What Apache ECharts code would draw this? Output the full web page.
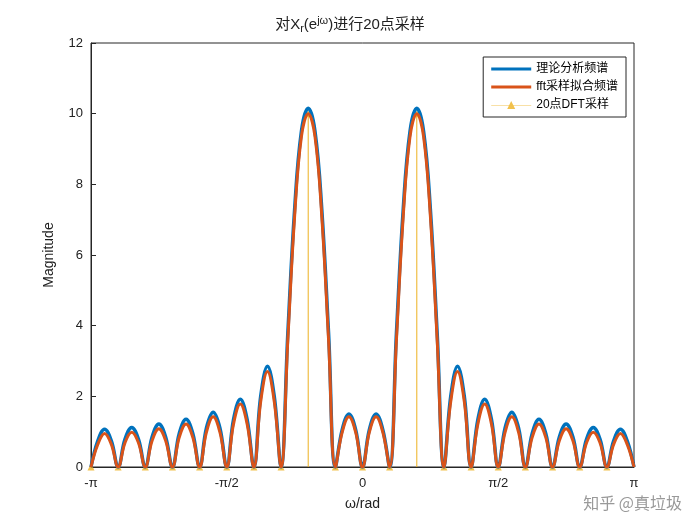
<!DOCTYPE html>
<html style="height: 100%">
<head><meta charset="utf-8"></head>
<body style="height: 100%; margin: 0; background: #fff">
<div id="container" style="width: 700px; height: 525px"></div>
<script src="https://cdn.jsdelivr.net/npm/echarts@6/dist/echarts.min.js"></script>
<script>
const theoryHalf = [0, 1.05, 1.5, 1.05, 0, 3.8, 7.3, 9.5, 10.15, 9.5, 7.3, 3.8, 0,
  2.0, 2.85, 2.0, 0, 1.35, 1.92, 1.35, 0, 1.1, 1.55, 1.1, 0, 0.95, 1.35, 0.95, 0,
  0.85, 1.22, 0.85, 0, 0.78, 1.12, 0.78, 0, 0.74, 1.07, 0.74, 0];
const fftHalf = [0, 0.98, 1.42, 0.98, 0, 3.6, 7.1, 9.35, 10.0, 9.35, 7.1, 3.6, 0,
  1.85, 2.7, 1.85, 0, 1.22, 1.78, 1.22, 0, 0.98, 1.42, 0.98, 0, 0.84, 1.22, 0.84, 0,
  0.74, 1.08, 0.74, 0, 0.68, 0.98, 0.68, 0, 0.64, 0.95, 0.64, 0];
// 20-point DFT samples, k = -10..9
const dftK = [-10, -9, -8, -7, -6, -5, -4, -3, -2, -1, 0, 1, 2, 3, 4, 5, 6, 7, 8, 9];
const dftVal = [0, 0, 0, 0, 0, 0, 0, 0, 10, 0, 0, 0, 10, 0, 0, 0, 0, 0, 0, 0];
const tickLabels = ['-π', '-π/2', '0', 'π/2', 'π'];

function full(half) {
  const pts = [];
  for (let i = -40; i <= 40; i++) {
    pts.push([i * Math.PI / 40, half[Math.abs(i)]]);
  }
  return pts;
}
const dftPts = dftK.map((k, i) => [2 * Math.PI * k / 20, dftVal[i]]);

const chart = echarts.init(document.getElementById('container'));
const font = 'Helvetica, Arial, "Noto Sans CJK SC", sans-serif';
const lineIcon = 'path://M0,0 L40,0 L40,3 L0,3 Z';
chart.setOption({
  animation: false,
  textStyle: { fontFamily: font },
  title: {
    text: '对X{sub|r}(e{sup|jω})进行20点采样',
    left: 'center', top: 10,
    textStyle: {
      fontSize: 15, fontWeight: 'normal', color: '#222', fontFamily: font,
      rich: {
        sub: { fontSize: 11, verticalAlign: 'bottom', padding: [8, 0, 0, 0] },
        sup: { fontSize: 11, verticalAlign: 'top', padding: [0, 0, 8, 0] }
      }
    }
  },
  grid: { left: 91, right: 66, top: 43, bottom: 58, show: true, borderColor: '#262626', borderWidth: 1 },
  legend: {
    orient: 'vertical', right: 74, top: 57,
    backgroundColor: '#fff', borderColor: '#262626', borderWidth: 1,
    padding: [6, 8], itemGap: 6, itemWidth: 40, itemHeight: 10,
    textStyle: { fontSize: 12, color: '#000' },
    data: [
      { name: '理论分析频谱', icon: lineIcon, itemStyle: { color: '#0072BD' } },
      { name: 'fft采样拟合频谱', icon: lineIcon, itemStyle: { color: '#D95319' } },
      { name: '20点DFT采样', icon: 'path://M0,5 L40,5 L40,5.6 L0,5.6 Z M16,9 L20,1 L24,9 Z' }
    ]
  },
  xAxis: {
    type: 'value', min: -Math.PI, max: Math.PI, interval: Math.PI / 2,
    name: 'ω/rad', nameLocation: 'middle', nameGap: 30,
    nameTextStyle: { fontSize: 14, color: '#222' },
    axisLine: { lineStyle: { color: '#262626' } },
    axisTick: { inside: true, length: 5, lineStyle: { color: '#262626' } },
    axisLabel: { fontSize: 13, color: '#222', margin: 10,
      formatter: v => tickLabels[Math.round(v / (Math.PI / 2)) + 2] },
    splitLine: { show: false }
  },
  yAxis: {
    type: 'value', min: 0, max: 12, interval: 2,
    name: 'Magnitude', nameLocation: 'middle', nameGap: 35,
    nameTextStyle: { fontSize: 14, color: '#222' },
    axisLine: { show: true, onZero: false, lineStyle: { color: '#262626' } },
    axisTick: { show: true, inside: true, length: 5, lineStyle: { color: '#262626' } },
    axisLabel: { fontSize: 13, color: '#222' },
    splitLine: { show: false }
  },
  series: [
    { name: '理论分析频谱', type: 'line', data: full(theoryHalf), smooth: 0.4,
      showSymbol: false, lineStyle: { width: 3.5, color: '#0072BD' }, itemStyle: { color: '#0072BD' } },
    { name: 'fft采样拟合频谱', type: 'line', data: full(fftHalf), smooth: 0.4,
      showSymbol: false, lineStyle: { width: 3, color: '#D95319' }, itemStyle: { color: '#D95319' } },
    { name: 'stem', type: 'bar', data: dftPts, barWidth: 1, itemStyle: { color: '#EDB120' } },
    { name: '20点DFT采样', type: 'scatter', data: dftPts, symbol: 'triangle', symbolSize: 7,
      itemStyle: { color: '#EDB120' } }
  ],
  graphic: [{
    type: 'text', right: 18, bottom: 14,
    style: { text: '知乎 @真垃圾', fontSize: 16, fill: '#999', fontFamily: '"Noto Sans CJK SC"' }
  }]
});
</script>
</body>
</html>
